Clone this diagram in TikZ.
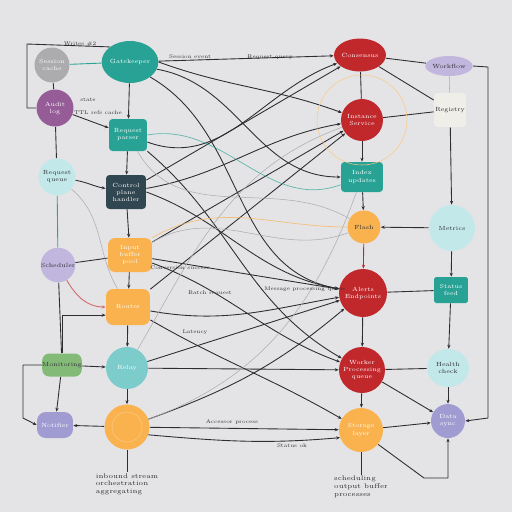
\documentclass[tikz,border=0pt]{standalone}
\usepackage{xcolor}
\usepackage{tikz}
\usetikzlibrary{shapes.geometric, arrows.meta, positioning, calc}
\definecolor{mybg}{RGB}{228,228,230}
\definecolor{mydark}{RGB}{45,45,50}
\definecolor{myteal}{RGB}{40,162,148}
\definecolor{myred}{RGB}{192,40,44}
\definecolor{myorange}{RGB}{249,178,78}
\definecolor{mypurple}{RGB}{150,92,152}
\definecolor{mylav}{RGB}{160,156,210}
\definecolor{mylilac}{RGB}{192,182,222}
\definecolor{mycyan}{RGB}{194,232,234}
\definecolor{mymidcyan}{RGB}{124,204,204}
\definecolor{myslate}{RGB}{48,70,80}
\definecolor{mygreen}{RGB}{132,186,120}
\definecolor{mygray}{RGB}{172,172,175}
\definecolor{mypaper}{RGB}{240,238,232}
\tikzset{
  tinytext/.style={font=\fontsize{3.4}{4}\selectfont, align=center},
  disc/.style={circle, inner sep=0pt, tinytext},
  oval/.style={ellipse, inner sep=0pt, tinytext},
  card/.style={rectangle, rounded corners=2pt, inner sep=0pt, tinytext},
  link/.style={-{Stealth[length=2.2pt,width=1.8pt]}, line width=0.5pt, color=mydark},
  plain/.style={line width=0.5pt, color=mydark},
  faint/.style={line width=0.3pt, color=mygray},
  wisp/.style={line width=0.4pt, opacity=0.7},
  lbl/.style={font=\fontsize{3}{3.5}\selectfont, color=mydark, inner sep=0.5pt},
  note/.style={font=\fontsize{3.8}{4.4}\selectfont, color=mydark, align=left, inner sep=0.5pt}
}

\begin{document}
\begin{tikzpicture}[x=0.02cm, y=-0.02cm]
  \fill[mybg] (0,0) rectangle (512,512);
  \useasboundingbox (0,0) rectangle (512,512);

  % left column
  \node[disc, fill=mygray, minimum size=0.7cm, text=white] (cache) at (52,65) {Session\\cache};
  \node[disc, fill=mypurple, minimum size=0.74cm, text=white] (audit) at (55,108) {Audit\\log};
  \node[disc, fill=mycyan, minimum size=0.74cm, text=mydark] (queue) at (57,177) {Request\\queue};
  \node[disc, fill=mylilac, minimum size=0.64cm, text=mydark] (sched) at (58,265) {Scheduler};
  \node[card, fill=mygreen, minimum width=0.78cm, minimum height=0.46cm, rounded corners=4pt, text=mydark] (monitor) at (62,365) {Monitoring};
  \node[card, fill=mylav, minimum width=0.72cm, minimum height=0.52cm, rounded corners=5pt, text=white] (notify) at (55,425) {Notifier};

  % second column
  \node[oval, fill=myteal, minimum width=0.92cm, minimum height=0.84cm, text=white] (gateway) at (130,62) {Gatekeeper};
  \node[card, fill=myteal, minimum width=0.76cm, minimum height=0.64cm, text=white] (parser) at (128,135) {Request\\parser};
  \node[card, fill=myslate, minimum width=0.8cm, minimum height=0.68cm, text=white] (control) at (126,192) {Control\\plane\\handler};
  \node[card, fill=myorange, minimum width=0.88cm, minimum height=0.68cm, rounded corners=4pt, text=white] (buffer) at (130,255) {Input\\buffer\\pool};
  \node[card, fill=myorange, minimum width=0.88cm, minimum height=0.72cm, rounded corners=4pt, text=white] (router) at (128,307) {Router};
  \node[disc, fill=mymidcyan, minimum size=0.84cm, text=white] (relay) at (127,368) {Relay};
  \node[disc, fill=myorange, minimum size=0.9cm] (planner) at (127,427) {};
  \draw[myorange!70!white, line width=0.3pt] (planner) circle[radius=0.3cm];

  % third column
  \node[oval, fill=myred, minimum width=0.92cm, minimum height=0.66cm, text=white] (consensus) at (360,55) {Consensus};
  \node[disc, fill=myred, minimum size=0.84cm, text=white] (ledger) at (362,120) {Instance\\Service};
  \node[card, fill=myteal, minimum width=0.84cm, minimum height=0.6cm, text=white] (index) at (362,177) {Index\\updates};
  \node[disc, fill=myorange, minimum size=0.66cm, text=mydark] (flash) at (364,227) {Flash};
  \node[disc, fill=myred, minimum size=0.96cm, text=white] (alerts) at (363,293) {Alerts\\Endpoints};
  \node[disc, fill=myred, minimum size=0.92cm, text=white] (worker) at (362,370) {Worker\\Processing\\queue};
  \node[disc, fill=myorange, minimum size=0.88cm, text=white] (storage) at (361,430) {Storage\\layer};

  % right column
  \node[oval, fill=mylilac, minimum width=0.6cm, minimum height=0.4cm, text=mydark] (client) at (449,66) {Workflow};
  \node[card, fill=mypaper, minimum width=0.64cm, minimum height=0.68cm, text=mydark] (registry) at (450,110) {Registry};
  \node[disc, fill=mycyan, minimum size=0.92cm, text=mydark] (metrics) at (452,228) {Metrics};
  \node[card, fill=myteal, minimum width=0.68cm, minimum height=0.52cm, rounded corners=1pt, text=white] (status) at (451,290) {Status\\feed};
  \node[oval, fill=mycyan, minimum width=0.84cm, minimum height=0.76cm, text=mydark] (health) at (448,368) {Health\\check};
  \node[disc, fill=mylav, minimum size=0.68cm, text=white] (sync) at (448,421) {Data\\sync};

  % notes
  \node[note, below=0.45cm of planner] (plannernote) {inbound stream\\orchestration\\aggregating};
  \node[note, below=0.45cm of storage] (storagenote) {scheduling\\output buffer\\processes};

  % frame lines
  \coordinate (ltop) at (27,44);
  \coordinate (lbot) at (23,418);
  \coordinate (rtop) at (488,67);
  \coordinate (rbot) at (488,418);
  \coordinate (sbend) at (424,478);
  \draw[plain] (audit.west) -| (ltop) -- (gateway.north west);
  \draw[link] (monitor.west) -| (lbot) -- (notify.west);
  \draw[plain] (client.east) -- (rtop) -- (rbot);
  \draw[link] (rbot) -- (sync.east);
  \draw[link] (storage.-40) -- (sbend) -| (sync.south);

  % left column links
  \draw[plain] (cache) -- (audit);
  \draw[plain] (audit) -- (queue);
  \draw[plain, myteal] (queue) -- (sched);
  \draw[plain] (sched) -- (monitor);
  \draw[link] (monitor) -- (notify);
  \draw[plain, myteal] (cache) -- (gateway);
  \draw[link] (audit) -- (parser);
  \draw[link] (queue) to[out=-10, in=170] (control);
  \draw[plain] (sched) -- (buffer);
  \draw[link, myred!70] (sched) to[out=-60, in=180] (router.west);
  \draw[link] (monitor.north) |- (router.200);
  \draw[link] (monitor) -- (relay);
  \draw[link] (planner) -- (notify);

  % second column links
  \draw[link] (gateway) -- (parser);
  \draw[link] (parser) -- (control);
  \draw[link] (control) -- (buffer);
  \draw[link] (buffer) -- (router);
  \draw[link] (router) -- (relay);
  \draw[link] (relay) -- (planner);
  \draw[plain] (planner) -- (plannernote);

  % third column links
  \draw[plain] (consensus) -- (ledger);
  \draw[link] (ledger) -- (index);
  \draw[link] (index) -- (flash);
  \draw[link, myred] (flash) -- (alerts);
  \draw[link] (alerts) -- (worker);
  \draw[link] (worker) -- (storage);
  \draw[plain] (storage) -- (storagenote);

  % right column links
  \draw[plain] (consensus) -- (client);
  \draw[faint] (client) -- (registry);
  \draw[plain] (consensus) -- (registry);
  \draw[plain] (ledger) -- (registry);
  \draw[link] (registry) -- (metrics);
  \draw[link] (metrics) -- (flash);
  \draw[link] (metrics) -- (status);
  \draw[plain] (alerts) -- (status);
  \draw[link] (status) -- (health);
  \draw[plain] (worker) -- (health);
  \draw[link] (health) -- (sync);
  \draw[link] (worker) -- (sync);
  \draw[link] (storage) -- (sync);

  % crossing links
  \draw[link] (gateway) -- (consensus);
  \draw[link] (gateway.east) to[out=-20, in=160] (ledger);
  \draw[link] (gateway.south east) to[out=-30, in=170] (alerts);
  \draw[link] (gateway.-15) to[out=-10, in=180] (index);
  \draw[link] (parser) to[out=-20, in=200] (consensus);
  \draw[link] (parser) to[out=-40, in=150] (worker);
  \draw[link] (control) -- (consensus);
  \draw[link] (control) to[out=10, in=190] (ledger);
  \draw[link] (control.east) to[out=-20, in=170] (alerts);
  \draw[link] (buffer) -- (ledger);
  \draw[link] (buffer) -- (alerts);
  \draw[link] (buffer) to[out=-20, in=160] (worker);
  \draw[link] (router) -- (ledger);
  \draw[link] (router) to[out=-10, in=190] (alerts);
  \draw[link] (router) to[out=-30, in=150] (storage);
  \draw[link] (relay) -- (alerts);
  \draw[link] (relay) -- (worker);
  \draw[link] (planner) to[out=20, in=220] (alerts);
  \draw[link] (planner) -- (storage);
  \draw[link] (planner.-20) to[out=-5, in=185] (storage.200);

  % faint curves
  \draw[faint] (parser) to[out=-60, in=150] (flash);
  \draw[faint] (buffer) to[out=30, in=200] (flash);
  \draw[faint] (ledger) to[out=200, in=60] (relay);
  \draw[faint] (queue) to[out=-40, in=120] (router);
  \draw[faint] (index) to[out=250, in=20] (planner);
  \draw[faint, myorange!70] (ledger) circle[radius=0.9cm];
  \draw[wisp, myorange] (flash) to[out=180, in=30] (buffer.north east);
  \draw[wisp, myteal] (index) to[out=200, in=10] (parser.east);

  % line labels
  \node[lbl] (l1) at (80,44) {Writes \#2};
  \node[lbl] (l2) at (88,100) {state};
  \node[lbl] (l3) at (98,113) {TTL refs cache};
  \node[lbl] (l4) at (190,57) {Session event};
  \node[lbl] (l5) at (270,57) {Request query};
  \node[lbl] (l6) at (180,268) {Conversion success};
  \node[lbl] (l7) at (210,293) {Batch request};
  \node[lbl] (l8) at (305,289) {Message processing queue};
  \node[lbl] (l9) at (195,332) {Latency};
  \node[lbl] (l10) at (232,422) {Accessor process};
  \node[lbl] (l11) at (292,446) {Status ok};
\end{tikzpicture}
\end{document}
